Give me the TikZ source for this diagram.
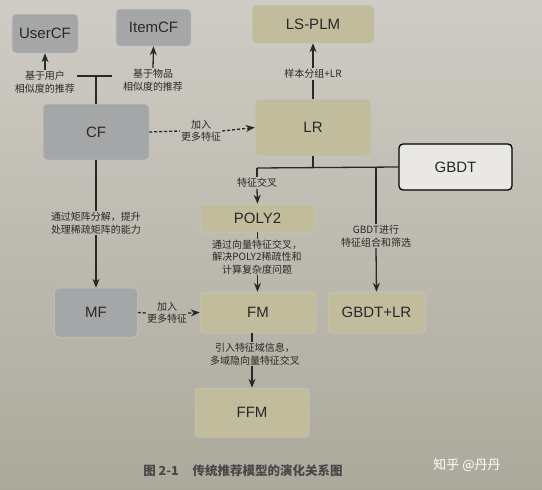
\documentclass[tikz,border=0pt]{standalone}
\usepackage{fontspec}
\setmainfont{Liberation Sans}
\newfontfamily\cjk{Noto Sans CJK SC}
\usetikzlibrary{arrows.meta}
\definecolor{paper}{RGB}{206,204,196}
\definecolor{paperdark}{RGB}{172,169,156}
\definecolor{cfgray}{RGB}{164,166,168}
\definecolor{olive}{RGB}{193,189,156}
\definecolor{ink}{RGB}{40,40,40}
\tikzset{
	box/.style={rectangle, rounded corners=4pt, draw=black!22, line width=0.5pt, text=ink, font=\fontsize{15}{18}\selectfont},
	graybox/.style={box, fill=cfgray},
	olivebox/.style={box, fill=olive},
	lab/.style={align=center, text=ink, font=\cjk\fontsize{10}{12.5}\selectfont, inner sep=1pt},
	arr/.style={-{Stealth[length=9pt,width=7pt]}},
	ln/.style={line width=1.3pt, draw=ink},
}
\begin{document}
\begin{tikzpicture}[x=1pt,y=-1pt]
			%%%%% BACKGROUND %%%%%
			\shade[top color=paper, bottom color=paperdark] (0,0) rectangle (542,490);
			\useasboundingbox (0,0) rectangle (542,490);
			
			%%%%% BOXES %%%%%
			\node[graybox, minimum width=66pt, minimum height=39pt] (usercf) at (45,33.5) {UserCF};
			\node[graybox, minimum width=75pt, minimum height=37pt] (itemcf) at (153.5,27.5) {ItemCF};
			\node[graybox, minimum width=106pt, minimum height=56pt] (cf) at (96,132) {CF};
			\node[graybox, minimum width=83pt, minimum height=49pt] (mf) at (96,312.5) {MF};
			
			\node[olivebox, minimum width=122pt, minimum height=38pt] (lsplm) at (313,24) {LS-PLM};
			\node[olivebox, minimum width=116pt, minimum height=57pt] (lr) at (313,127.5) {LR};
			\node[olivebox, minimum width=115pt, minimum height=28pt] (poly2) at (257.5,218) {POLY2};
			\node[olivebox, minimum width=116pt, minimum height=41pt] (fm) at (258,312.5) {FM};
			\node[olivebox, minimum width=97pt, minimum height=41pt] (gbdtlr) at (376.5,312.5) {GBDT+LR};
			\node[olivebox, minimum width=114pt, minimum height=49pt] (ffm) at (252,412.5) {FFM};
			
			\node[box, draw=black, line width=1.3pt, fill=white!55!paper, minimum width=113pt, minimum height=46pt] (gbdt) at (455.5,167) {GBDT};
			
			%%%%% LABELS %%%%%
			\node[lab] (userlab) at (45,82) {基于用户\\相似度的推荐};
			\node[lab] (itemlab) at (153,80) {基于物品\\相似度的推荐};
			\node[lab] (morelab1) at (201,131) {加入\\更多特征};
			\node[lab] (plmlab) at (313,74) {样本分组+LR};
			\node[lab] (crosslab) at (257,183) {特征交叉};
			\node[lab] (gbdtlab) at (376,236) {GBDT进行\\特征组合和筛选};
			\node[lab] (mflab) at (96,223) {通过矩阵分解，提升\\处理稀疏矩阵的能力};
			\node[lab] (polylab) at (257,257) {通过向量特征交叉，\\解决POLY2稀疏性和\\计算复杂度问题};
			\node[lab] (morelab2) at (167,313) {加入\\更多特征};
			\node[lab] (ffmlab) at (255,354) {引入特征域信息，\\多域隐向量特征交叉};
			
			%%%%% CONNECTORS %%%%%
			\coordinate (tbar) at (96,76);
			\coordinate (tbarl) at (77,76);
			\coordinate (tbarr) at (112,76);
			\draw[ln] (cf.north) -- (tbar);
			\draw[ln] (tbarl) -- (tbarr);
			\draw[ln, arr] (userlab.north) -- (usercf.south);
			\draw[ln, arr] (itemlab.north) -- (itemcf.south);
			
			\draw[ln, densely dashed] (cf.east) -- (morelab1.west);
			\draw[ln, densely dashed, arr] (morelab1.east) -- (lr.west);
			
			\draw[ln] (lr.north) -- (plmlab.south);
			\draw[ln, arr] (plmlab.north) -- (lsplm.south);
			
			\coordinate (jl) at (257,168);
			\coordinate (jm) at (313,168);
			\coordinate (jr) at (376,168);
			\draw[ln] (lr.south) -- (jm);
			\draw[ln] (jl) -- (gbdt.west);
			\draw[ln] (jl) -- (crosslab.north);
			\draw[ln, arr] (crosslab.south) -- (poly2.north);
			\draw[ln] (jr) -- (gbdtlab.north);
			\draw[ln, arr] (gbdtlab.south) -- (gbdtlr.north);
			
			\draw[ln] (cf.south) -- (cf.south |- mflab.north);
			\draw[ln, arr] (cf.south |- mflab.south) -- (cf.south |- mf.north);
			
			\draw[ln] (poly2.south) -- (poly2.south |- polylab.north);
			\draw[ln, arr] (poly2.south |- polylab.south) -- (poly2.south |- fm.north);
			
			\draw[ln, densely dashed] (mf.east) -- (morelab2.west);
			\draw[ln, densely dashed, arr] (morelab2.east) -- (fm.west);
			
			\draw[ln] (ffm.north |- fm.south) -- (ffm.north |- ffmlab.north);
			\draw[ln, arr] (ffm.north |- ffmlab.south) -- (ffm.north);
			
			%%%%% CAPTION %%%%%
			\node[text=ink!85, font=\cjk\bfseries\fontsize{12.5}{14}\selectfont] (caption) at (243,471) {图 2-1\hspace{14pt}传统推荐模型的演化关系图};
			\node[text=white, font=\cjk\fontsize{13}{15}\selectfont] (mark) at (467,465) {知乎 @丹丹};
		\end{tikzpicture}
\end{document}
